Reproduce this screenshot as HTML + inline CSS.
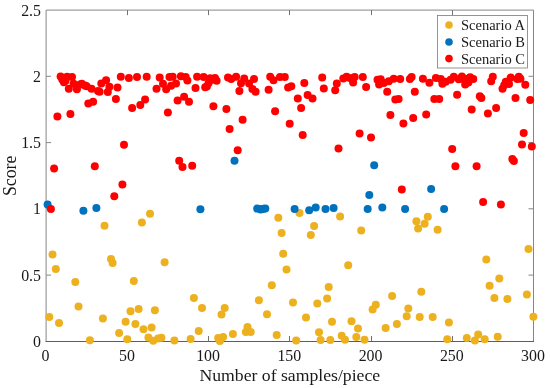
<!DOCTYPE html>
<html><head><meta charset="utf-8"><title>Scatter</title>
<style>
html,body{margin:0;padding:0;background:#fff;}
body{width:550px;height:388px;overflow:hidden;position:relative;font-family:"Liberation Serif",serif;}
svg{position:absolute;left:0;top:0;}
text{font-family:"Liberation Serif",serif;fill:#1a1a1a;}
</style></head><body>
<svg width="550" height="388" viewBox="0 0 550 388">
<rect x="0" y="0" width="550" height="388" fill="#fff"/>

<line x1="46.1" y1="10.1" x2="533.5" y2="10.1" stroke="#868686" stroke-width="1"/>
<line x1="46.1" y1="10.1" x2="46.1" y2="341.5" stroke="#868686" stroke-width="1"/>
<line x1="533.5" y1="10.1" x2="533.5" y2="341.5" stroke="#868686" stroke-width="1"/>
<line x1="45.6" y1="341.5" x2="534.0" y2="341.5" stroke="#5c5c64" stroke-width="1"/>
<text x="45.6" y="360.5" font-size="15.9" text-anchor="middle">0</text>
<line x1="127.5" y1="341.5" x2="127.5" y2="336.0" stroke="#727272" stroke-width="1"/>
<line x1="127.5" y1="10.1" x2="127.5" y2="15.1" stroke="#727272" stroke-width="1"/>
<text x="126.9" y="360.5" font-size="15.9" text-anchor="middle">50</text>
<line x1="208.5" y1="341.5" x2="208.5" y2="336.0" stroke="#727272" stroke-width="1"/>
<line x1="208.5" y1="10.1" x2="208.5" y2="15.1" stroke="#727272" stroke-width="1"/>
<text x="208.1" y="360.5" font-size="15.9" text-anchor="middle">100</text>
<line x1="289.5" y1="341.5" x2="289.5" y2="336.0" stroke="#727272" stroke-width="1"/>
<line x1="289.5" y1="10.1" x2="289.5" y2="15.1" stroke="#727272" stroke-width="1"/>
<text x="289.3" y="360.5" font-size="15.9" text-anchor="middle">150</text>
<line x1="371.5" y1="341.5" x2="371.5" y2="336.0" stroke="#727272" stroke-width="1"/>
<line x1="371.5" y1="10.1" x2="371.5" y2="15.1" stroke="#727272" stroke-width="1"/>
<text x="370.6" y="360.5" font-size="15.9" text-anchor="middle">200</text>
<line x1="452.5" y1="341.5" x2="452.5" y2="336.0" stroke="#727272" stroke-width="1"/>
<line x1="452.5" y1="10.1" x2="452.5" y2="15.1" stroke="#727272" stroke-width="1"/>
<text x="451.8" y="360.5" font-size="15.9" text-anchor="middle">250</text>
<text x="533.0" y="360.5" font-size="15.9" text-anchor="middle">300</text>
<text x="41" y="346.9" font-size="15.9" text-anchor="end">0</text>
<line x1="46.1" y1="275.1" x2="51.1" y2="275.1" stroke="#868686" stroke-width="1"/>
<line x1="533.5" y1="275.1" x2="528.5" y2="275.1" stroke="#868686" stroke-width="1"/>
<text x="41" y="280.7" font-size="15.9" text-anchor="end">0.5</text>
<line x1="46.1" y1="208.8" x2="51.1" y2="208.8" stroke="#868686" stroke-width="1"/>
<line x1="533.5" y1="208.8" x2="528.5" y2="208.8" stroke="#868686" stroke-width="1"/>
<text x="41" y="214.4" font-size="15.9" text-anchor="end">1</text>
<line x1="46.1" y1="142.6" x2="51.1" y2="142.6" stroke="#868686" stroke-width="1"/>
<line x1="533.5" y1="142.6" x2="528.5" y2="142.6" stroke="#868686" stroke-width="1"/>
<text x="41" y="148.2" font-size="15.9" text-anchor="end">1.5</text>
<line x1="46.1" y1="76.3" x2="51.1" y2="76.3" stroke="#868686" stroke-width="1"/>
<line x1="533.5" y1="76.3" x2="528.5" y2="76.3" stroke="#868686" stroke-width="1"/>
<text x="41" y="81.9" font-size="15.9" text-anchor="end">2</text>
<text x="41" y="15.7" font-size="15.9" text-anchor="end">2.5</text>
<text x="289.8" y="380.5" font-size="17.7" text-anchor="middle">Number of samples/piece</text>
<text transform="translate(15.6,175.8) rotate(-90)" font-size="17.8" text-anchor="middle">Score</text>
<g fill="#EDB120">
<circle cx="49.3" cy="317.1" r="4.00"/>
<circle cx="52.5" cy="254.4" r="4.00"/>
<circle cx="55.8" cy="268.9" r="4.00"/>
<circle cx="59.0" cy="323.1" r="4.00"/>
<circle cx="75.3" cy="282.0" r="4.00"/>
<circle cx="78.5" cy="306.4" r="4.00"/>
<circle cx="89.9" cy="340.2" r="4.00"/>
<circle cx="102.9" cy="318.4" r="4.00"/>
<circle cx="104.5" cy="225.8" r="4.00"/>
<circle cx="111.0" cy="258.9" r="4.00"/>
<circle cx="112.6" cy="263.1" r="4.00"/>
<circle cx="119.1" cy="333.1" r="4.00"/>
<circle cx="125.6" cy="321.7" r="4.00"/>
<circle cx="127.3" cy="339.3" r="4.00"/>
<circle cx="130.5" cy="311.3" r="4.00"/>
<circle cx="133.8" cy="281.1" r="4.00"/>
<circle cx="135.4" cy="324.0" r="4.00"/>
<circle cx="138.6" cy="308.9" r="4.00"/>
<circle cx="141.9" cy="222.6" r="4.00"/>
<circle cx="143.5" cy="329.3" r="4.00"/>
<circle cx="148.4" cy="337.5" r="4.00"/>
<circle cx="150.0" cy="213.8" r="4.00"/>
<circle cx="151.6" cy="327.5" r="4.00"/>
<circle cx="153.2" cy="340.8" r="4.00"/>
<circle cx="154.9" cy="310.2" r="4.00"/>
<circle cx="158.1" cy="338.6" r="4.00"/>
<circle cx="161.4" cy="337.7" r="4.00"/>
<circle cx="164.6" cy="262.2" r="4.00"/>
<circle cx="174.4" cy="340.4" r="4.00"/>
<circle cx="190.6" cy="338.9" r="4.00"/>
<circle cx="193.9" cy="298.0" r="4.00"/>
<circle cx="198.7" cy="331.1" r="4.00"/>
<circle cx="202.0" cy="308.0" r="4.00"/>
<circle cx="218.2" cy="338.0" r="4.00"/>
<circle cx="219.9" cy="341.1" r="4.00"/>
<circle cx="221.5" cy="314.4" r="4.00"/>
<circle cx="223.1" cy="337.1" r="4.00"/>
<circle cx="224.7" cy="308.0" r="4.00"/>
<circle cx="232.9" cy="334.0" r="4.00"/>
<circle cx="245.9" cy="332.0" r="4.00"/>
<circle cx="247.5" cy="327.1" r="4.00"/>
<circle cx="250.7" cy="332.0" r="4.00"/>
<circle cx="258.9" cy="300.2" r="4.00"/>
<circle cx="267.0" cy="314.2" r="4.00"/>
<circle cx="271.8" cy="285.3" r="4.00"/>
<circle cx="276.7" cy="335.1" r="4.00"/>
<circle cx="278.3" cy="217.7" r="4.00"/>
<circle cx="281.6" cy="233.1" r="4.00"/>
<circle cx="283.2" cy="253.8" r="4.00"/>
<circle cx="286.5" cy="269.5" r="4.00"/>
<circle cx="293.0" cy="302.6" r="4.00"/>
<circle cx="296.2" cy="340.4" r="4.00"/>
<circle cx="299.5" cy="212.9" r="4.00"/>
<circle cx="306.0" cy="317.5" r="4.00"/>
<circle cx="310.8" cy="234.9" r="4.00"/>
<circle cx="314.1" cy="226.0" r="4.00"/>
<circle cx="317.3" cy="303.5" r="4.00"/>
<circle cx="319.0" cy="332.2" r="4.00"/>
<circle cx="320.6" cy="340.0" r="4.00"/>
<circle cx="327.1" cy="298.4" r="4.00"/>
<circle cx="328.7" cy="287.1" r="4.00"/>
<circle cx="330.3" cy="340.0" r="4.00"/>
<circle cx="332.0" cy="321.7" r="4.00"/>
<circle cx="340.1" cy="216.6" r="4.00"/>
<circle cx="341.7" cy="335.8" r="4.00"/>
<circle cx="345.0" cy="339.8" r="4.00"/>
<circle cx="348.2" cy="265.3" r="4.00"/>
<circle cx="351.5" cy="321.3" r="4.00"/>
<circle cx="356.3" cy="337.1" r="4.00"/>
<circle cx="358.0" cy="328.4" r="4.00"/>
<circle cx="361.2" cy="230.4" r="4.00"/>
<circle cx="364.5" cy="339.8" r="4.00"/>
<circle cx="372.6" cy="309.5" r="4.00"/>
<circle cx="375.8" cy="304.8" r="4.00"/>
<circle cx="385.6" cy="328.0" r="4.00"/>
<circle cx="392.1" cy="296.0" r="4.00"/>
<circle cx="396.9" cy="324.0" r="4.00"/>
<circle cx="406.7" cy="316.2" r="4.00"/>
<circle cx="408.3" cy="308.6" r="4.00"/>
<circle cx="416.4" cy="221.3" r="4.00"/>
<circle cx="418.1" cy="228.6" r="4.00"/>
<circle cx="419.7" cy="316.9" r="4.00"/>
<circle cx="421.3" cy="291.7" r="4.00"/>
<circle cx="424.6" cy="223.7" r="4.00"/>
<circle cx="427.8" cy="216.8" r="4.00"/>
<circle cx="432.7" cy="317.1" r="4.00"/>
<circle cx="437.6" cy="229.8" r="4.00"/>
<circle cx="447.3" cy="339.3" r="4.00"/>
<circle cx="448.9" cy="322.6" r="4.00"/>
<circle cx="466.8" cy="338.0" r="4.00"/>
<circle cx="474.9" cy="340.4" r="4.00"/>
<circle cx="478.2" cy="334.4" r="4.00"/>
<circle cx="484.7" cy="339.3" r="4.00"/>
<circle cx="486.3" cy="259.5" r="4.00"/>
<circle cx="489.6" cy="285.8" r="4.00"/>
<circle cx="494.4" cy="298.0" r="4.00"/>
<circle cx="497.7" cy="336.8" r="4.00"/>
<circle cx="499.3" cy="278.6" r="4.00"/>
<circle cx="507.4" cy="298.9" r="4.00"/>
<circle cx="526.9" cy="294.4" r="4.00"/>
<circle cx="528.5" cy="248.9" r="4.00"/>
<circle cx="533.4" cy="316.8" r="4.00"/>
</g>
<g fill="#0072BD">
<circle cx="47.6" cy="204.6" r="4.00"/>
<circle cx="83.4" cy="210.8" r="4.00"/>
<circle cx="96.4" cy="208.0" r="4.00"/>
<circle cx="200.4" cy="209.3" r="4.00"/>
<circle cx="234.5" cy="160.8" r="4.00"/>
<circle cx="257.2" cy="208.6" r="4.00"/>
<circle cx="260.5" cy="209.5" r="4.00"/>
<circle cx="262.1" cy="208.9" r="4.00"/>
<circle cx="263.7" cy="208.8" r="4.00"/>
<circle cx="265.3" cy="208.6" r="4.00"/>
<circle cx="294.6" cy="208.9" r="4.00"/>
<circle cx="309.2" cy="210.2" r="4.00"/>
<circle cx="315.7" cy="207.5" r="4.00"/>
<circle cx="325.5" cy="208.9" r="4.00"/>
<circle cx="333.6" cy="208.0" r="4.00"/>
<circle cx="367.7" cy="208.9" r="4.00"/>
<circle cx="369.3" cy="194.9" r="4.00"/>
<circle cx="374.2" cy="165.3" r="4.00"/>
<circle cx="382.3" cy="207.5" r="4.00"/>
<circle cx="405.1" cy="208.9" r="4.00"/>
<circle cx="431.1" cy="188.9" r="4.00"/>
<circle cx="444.1" cy="208.9" r="4.00"/>
</g>
<g fill="#FF0000">
<circle cx="50.9" cy="208.9" r="4.00"/>
<circle cx="54.1" cy="168.6" r="4.00"/>
<circle cx="57.4" cy="116.6" r="4.00"/>
<circle cx="60.6" cy="76.5" r="4.00"/>
<circle cx="62.3" cy="79.6" r="4.00"/>
<circle cx="63.9" cy="82.3" r="4.00"/>
<circle cx="65.5" cy="80.8" r="4.00"/>
<circle cx="67.1" cy="76.7" r="4.00"/>
<circle cx="68.8" cy="88.7" r="4.00"/>
<circle cx="70.4" cy="114.0" r="4.00"/>
<circle cx="72.0" cy="77.1" r="4.00"/>
<circle cx="73.6" cy="83.8" r="4.00"/>
<circle cx="76.9" cy="89.2" r="4.00"/>
<circle cx="80.1" cy="84.5" r="4.00"/>
<circle cx="81.8" cy="83.7" r="4.00"/>
<circle cx="85.0" cy="85.6" r="4.00"/>
<circle cx="86.6" cy="86.3" r="4.00"/>
<circle cx="88.3" cy="103.5" r="4.00"/>
<circle cx="91.5" cy="88.8" r="4.00"/>
<circle cx="93.1" cy="101.8" r="4.00"/>
<circle cx="94.8" cy="166.2" r="4.00"/>
<circle cx="98.0" cy="91.0" r="4.00"/>
<circle cx="99.6" cy="91.7" r="4.00"/>
<circle cx="101.3" cy="83.5" r="4.00"/>
<circle cx="106.1" cy="80.3" r="4.00"/>
<circle cx="107.8" cy="92.1" r="4.00"/>
<circle cx="109.4" cy="86.7" r="4.00"/>
<circle cx="114.3" cy="196.2" r="4.00"/>
<circle cx="115.9" cy="98.9" r="4.00"/>
<circle cx="117.5" cy="87.6" r="4.00"/>
<circle cx="120.8" cy="76.7" r="4.00"/>
<circle cx="122.4" cy="184.4" r="4.00"/>
<circle cx="124.0" cy="144.8" r="4.00"/>
<circle cx="128.9" cy="77.9" r="4.00"/>
<circle cx="132.1" cy="108.0" r="4.00"/>
<circle cx="137.0" cy="77.1" r="4.00"/>
<circle cx="140.3" cy="104.9" r="4.00"/>
<circle cx="145.1" cy="99.4" r="4.00"/>
<circle cx="146.7" cy="76.7" r="4.00"/>
<circle cx="156.5" cy="88.8" r="4.00"/>
<circle cx="159.7" cy="77.5" r="4.00"/>
<circle cx="163.0" cy="83.7" r="4.00"/>
<circle cx="166.2" cy="89.2" r="4.00"/>
<circle cx="167.9" cy="112.6" r="4.00"/>
<circle cx="169.5" cy="77.1" r="4.00"/>
<circle cx="171.1" cy="85.8" r="4.00"/>
<circle cx="172.7" cy="76.7" r="4.00"/>
<circle cx="176.0" cy="83.5" r="4.00"/>
<circle cx="177.6" cy="100.6" r="4.00"/>
<circle cx="179.2" cy="160.8" r="4.00"/>
<circle cx="180.9" cy="76.2" r="4.00"/>
<circle cx="182.5" cy="167.1" r="4.00"/>
<circle cx="184.1" cy="96.8" r="4.00"/>
<circle cx="185.7" cy="77.1" r="4.00"/>
<circle cx="187.4" cy="80.5" r="4.00"/>
<circle cx="189.0" cy="101.7" r="4.00"/>
<circle cx="192.2" cy="165.8" r="4.00"/>
<circle cx="195.5" cy="88.0" r="4.00"/>
<circle cx="197.1" cy="76.7" r="4.00"/>
<circle cx="203.6" cy="76.9" r="4.00"/>
<circle cx="205.2" cy="87.3" r="4.00"/>
<circle cx="206.9" cy="86.5" r="4.00"/>
<circle cx="208.5" cy="83.3" r="4.00"/>
<circle cx="210.1" cy="78.3" r="4.00"/>
<circle cx="211.7" cy="79.8" r="4.00"/>
<circle cx="213.4" cy="106.2" r="4.00"/>
<circle cx="215.0" cy="77.9" r="4.00"/>
<circle cx="216.6" cy="80.8" r="4.00"/>
<circle cx="226.4" cy="108.9" r="4.00"/>
<circle cx="228.0" cy="77.6" r="4.00"/>
<circle cx="229.6" cy="128.9" r="4.00"/>
<circle cx="231.2" cy="78.9" r="4.00"/>
<circle cx="236.1" cy="76.8" r="4.00"/>
<circle cx="237.7" cy="150.3" r="4.00"/>
<circle cx="239.4" cy="91.0" r="4.00"/>
<circle cx="241.0" cy="83.3" r="4.00"/>
<circle cx="242.6" cy="119.8" r="4.00"/>
<circle cx="244.2" cy="78.5" r="4.00"/>
<circle cx="249.1" cy="83.5" r="4.00"/>
<circle cx="252.4" cy="88.9" r="4.00"/>
<circle cx="254.0" cy="78.9" r="4.00"/>
<circle cx="255.6" cy="91.7" r="4.00"/>
<circle cx="268.6" cy="89.7" r="4.00"/>
<circle cx="270.2" cy="76.7" r="4.00"/>
<circle cx="273.5" cy="80.3" r="4.00"/>
<circle cx="275.1" cy="111.3" r="4.00"/>
<circle cx="280.0" cy="77.1" r="4.00"/>
<circle cx="284.8" cy="76.9" r="4.00"/>
<circle cx="288.1" cy="87.5" r="4.00"/>
<circle cx="289.7" cy="123.8" r="4.00"/>
<circle cx="291.3" cy="86.2" r="4.00"/>
<circle cx="297.8" cy="98.4" r="4.00"/>
<circle cx="301.1" cy="108.0" r="4.00"/>
<circle cx="302.7" cy="134.9" r="4.00"/>
<circle cx="304.3" cy="83.1" r="4.00"/>
<circle cx="307.6" cy="94.9" r="4.00"/>
<circle cx="312.5" cy="98.4" r="4.00"/>
<circle cx="322.2" cy="77.5" r="4.00"/>
<circle cx="323.8" cy="88.6" r="4.00"/>
<circle cx="335.2" cy="90.3" r="4.00"/>
<circle cx="336.8" cy="83.5" r="4.00"/>
<circle cx="338.5" cy="148.4" r="4.00"/>
<circle cx="343.3" cy="78.5" r="4.00"/>
<circle cx="346.6" cy="76.7" r="4.00"/>
<circle cx="349.8" cy="77.9" r="4.00"/>
<circle cx="353.1" cy="82.6" r="4.00"/>
<circle cx="354.7" cy="77.1" r="4.00"/>
<circle cx="359.6" cy="133.5" r="4.00"/>
<circle cx="362.8" cy="77.1" r="4.00"/>
<circle cx="366.1" cy="87.0" r="4.00"/>
<circle cx="371.0" cy="137.5" r="4.00"/>
<circle cx="377.5" cy="79.7" r="4.00"/>
<circle cx="379.1" cy="84.6" r="4.00"/>
<circle cx="380.7" cy="79.2" r="4.00"/>
<circle cx="383.9" cy="83.1" r="4.00"/>
<circle cx="387.2" cy="91.8" r="4.00"/>
<circle cx="388.8" cy="81.3" r="4.00"/>
<circle cx="390.4" cy="114.9" r="4.00"/>
<circle cx="393.7" cy="78.7" r="4.00"/>
<circle cx="395.3" cy="99.6" r="4.00"/>
<circle cx="398.6" cy="98.9" r="4.00"/>
<circle cx="400.2" cy="78.9" r="4.00"/>
<circle cx="401.8" cy="189.5" r="4.00"/>
<circle cx="403.4" cy="123.5" r="4.00"/>
<circle cx="409.9" cy="78.9" r="4.00"/>
<circle cx="411.6" cy="76.9" r="4.00"/>
<circle cx="413.2" cy="118.0" r="4.00"/>
<circle cx="414.8" cy="91.8" r="4.00"/>
<circle cx="422.9" cy="78.8" r="4.00"/>
<circle cx="426.2" cy="114.4" r="4.00"/>
<circle cx="429.4" cy="82.8" r="4.00"/>
<circle cx="434.3" cy="99.1" r="4.00"/>
<circle cx="435.9" cy="78.0" r="4.00"/>
<circle cx="439.2" cy="98.9" r="4.00"/>
<circle cx="440.8" cy="78.9" r="4.00"/>
<circle cx="442.4" cy="83.7" r="4.00"/>
<circle cx="445.7" cy="81.7" r="4.00"/>
<circle cx="450.6" cy="79.8" r="4.00"/>
<circle cx="452.2" cy="148.9" r="4.00"/>
<circle cx="453.8" cy="76.7" r="4.00"/>
<circle cx="455.4" cy="166.2" r="4.00"/>
<circle cx="457.1" cy="94.8" r="4.00"/>
<circle cx="458.7" cy="79.3" r="4.00"/>
<circle cx="460.3" cy="78.8" r="4.00"/>
<circle cx="461.9" cy="76.5" r="4.00"/>
<circle cx="463.6" cy="78.5" r="4.00"/>
<circle cx="465.2" cy="84.6" r="4.00"/>
<circle cx="466.8" cy="78.9" r="4.00"/>
<circle cx="468.4" cy="82.6" r="4.00"/>
<circle cx="470.1" cy="77.3" r="4.00"/>
<circle cx="471.7" cy="109.5" r="4.00"/>
<circle cx="473.3" cy="78.9" r="4.00"/>
<circle cx="476.6" cy="166.2" r="4.00"/>
<circle cx="479.8" cy="96.2" r="4.00"/>
<circle cx="481.4" cy="98.0" r="4.00"/>
<circle cx="483.1" cy="202.1" r="4.00"/>
<circle cx="487.9" cy="113.5" r="4.00"/>
<circle cx="491.2" cy="81.3" r="4.00"/>
<circle cx="492.8" cy="76.7" r="4.00"/>
<circle cx="496.1" cy="108.0" r="4.00"/>
<circle cx="500.9" cy="204.6" r="4.00"/>
<circle cx="502.5" cy="88.8" r="4.00"/>
<circle cx="504.2" cy="85.3" r="4.00"/>
<circle cx="505.8" cy="81.7" r="4.00"/>
<circle cx="509.0" cy="84.0" r="4.00"/>
<circle cx="510.7" cy="77.6" r="4.00"/>
<circle cx="512.3" cy="158.9" r="4.00"/>
<circle cx="513.9" cy="161.1" r="4.00"/>
<circle cx="515.5" cy="98.0" r="4.00"/>
<circle cx="517.2" cy="78.9" r="4.00"/>
<circle cx="518.8" cy="76.7" r="4.00"/>
<circle cx="520.4" cy="78.7" r="4.00"/>
<circle cx="522.0" cy="144.4" r="4.00"/>
<circle cx="523.7" cy="133.1" r="4.00"/>
<circle cx="525.3" cy="84.8" r="4.00"/>
<circle cx="530.2" cy="100.0" r="4.00"/>
<circle cx="531.8" cy="146.6" r="4.00"/>
</g>
<rect x="437.5" y="15.5" width="90" height="52.5" fill="#fff" stroke="#7a7a7a" stroke-width="0.8"/>
<circle cx="449" cy="25.0" r="3.8" fill="#EDB120"/>
<text x="461" y="30.0" font-size="14.5">Scenario A</text>
<circle cx="449" cy="42.0" r="3.8" fill="#0072BD"/>
<text x="461" y="47.0" font-size="14.5">Scenario B</text>
<circle cx="449" cy="58.6" r="3.8" fill="#FF0000"/>
<text x="461" y="63.6" font-size="14.5">Scenario C</text>
</svg></body></html>
